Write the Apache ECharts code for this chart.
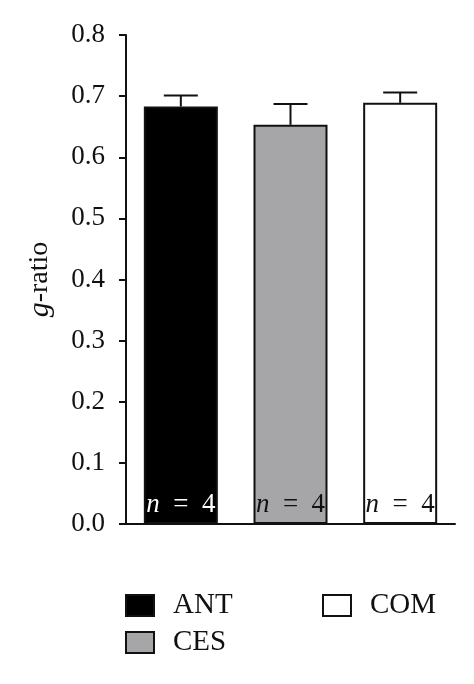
<!DOCTYPE html>
<html>
<head>
<meta charset="utf-8">
<script src="https://cdn.jsdelivr.net/npm/echarts@6/dist/echarts.min.js"></script>
<style>
  html, body { margin: 0; padding: 0; background: #fff; }
  #chart { width: 474px; height: 684px; }
</style>
</head>
<body>
<div id="chart"></div>
<script>
// g-ratio per group, mean and top of error bar
const groups = ['ANT', 'CES', 'COM'];
const means = [0.683, 0.653, 0.689];
const errTops = [0.701, 0.687, 0.706];
const nLabels = ['n = 4', 'n = 4', 'n = 4'];
const yTicks = { min: 0, max: 0.8, interval: 0.1 };

const fills = ['#000000', '#a6a5a7', '#ffffff'];
const labelColors = ['#ffffff', '#111111', '#111111'];
const serif = "'Liberation Serif', 'Times New Roman', serif";

const chart = echarts.init(document.getElementById('chart'));

// one bar series per group, overlapped so each sits on its own category
const barSeries = groups.map((name, i) => ({
    name: name,
    type: 'bar',
    barWidth: 74,
    barGap: '-100%',
    data: groups.map((g, j) => (j === i ? means[i] : null)),
    itemStyle: {
        color: fills[i],
        borderColor: '#111',
        borderWidth: 2
    },
    label: {
        show: true,
        position: 'insideBottom',
        distance: 6,
        formatter: () => {
            const parts = nLabels[i].split(' ');
            return '{i|' + parts[0] + '}\u2002' + parts[1] + '\u2002' + parts[2];
        },
        rich: {
            i: { fontStyle: 'italic', fontFamily: serif, fontSize: 27, color: labelColors[i] }
        },
        fontFamily: serif,
        fontSize: 27,
        color: labelColors[i]
    },
    z: 2
}));

const errorSeries = {
    type: 'custom',
    name: 'err',
    data: groups.map((g, i) => [i, means[i], errTops[i]]),
    renderItem(params, api) {
        const x = api.value(0);
        const base = api.coord([x, api.value(1)]);
        const top = api.coord([x, api.value(2)]);
        const half = 17;
        return {
            type: 'group',
            children: [
                { type: 'line', shape: { x1: base[0], y1: base[1], x2: top[0], y2: top[1] },
                  style: { stroke: '#111', lineWidth: 2 } },
                { type: 'line', shape: { x1: top[0] - half, y1: top[1], x2: top[0] + half, y2: top[1] },
                  style: { stroke: '#111', lineWidth: 2 } }
            ]
        };
    },
    z: 1
};

const legendText = { fontFamily: serif, fontSize: 29, color: '#111', padding: [0, 0, 0, 14] };

chart.setOption({
    animation: false,
    grid: { left: 126, right: 19, top: 35, bottom: 160 },
    xAxis: {
        type: 'category',
        data: groups,
        axisLine: { lineStyle: { color: '#111', width: 2 } },
        axisTick: { show: false },
        axisLabel: { show: false }
    },
    yAxis: {
        type: 'value',
        min: yTicks.min,
        max: yTicks.max,
        interval: yTicks.interval,
        name: '{i|g}-ratio',
        nameLocation: 'middle',
        nameGap: 71,
        nameTextStyle: {
            fontFamily: serif,
            fontSize: 28,
            color: '#111',
            rich: { i: { fontStyle: 'italic', fontFamily: serif, fontSize: 30, color: '#111' } }
        },
        axisLine: { show: true, lineStyle: { color: '#111', width: 2 } },
        axisTick: { show: true, length: 7, lineStyle: { color: '#111', width: 2 } },
        axisLabel: {
            fontFamily: serif,
            fontSize: 27,
            color: '#111',
            margin: 21,
            formatter: v => v.toFixed(1)
        },
        splitLine: { show: false }
    },
    legend: [
        {
            data: ['ANT', 'CES'],
            orient: 'vertical',
            left: 125,
            top: 591,
            padding: 0,
            itemWidth: 28,
            itemHeight: 21,
            itemGap: 8,
            icon: 'rect',
            textStyle: legendText
        },
        {
            data: ['COM'],
            orient: 'vertical',
            left: 322,
            top: 591,
            padding: 0,
            itemWidth: 28,
            itemHeight: 21,
            icon: 'rect',
            textStyle: legendText
        }
    ],
    series: [...barSeries, errorSeries]
});
</script>
</body>
</html>
